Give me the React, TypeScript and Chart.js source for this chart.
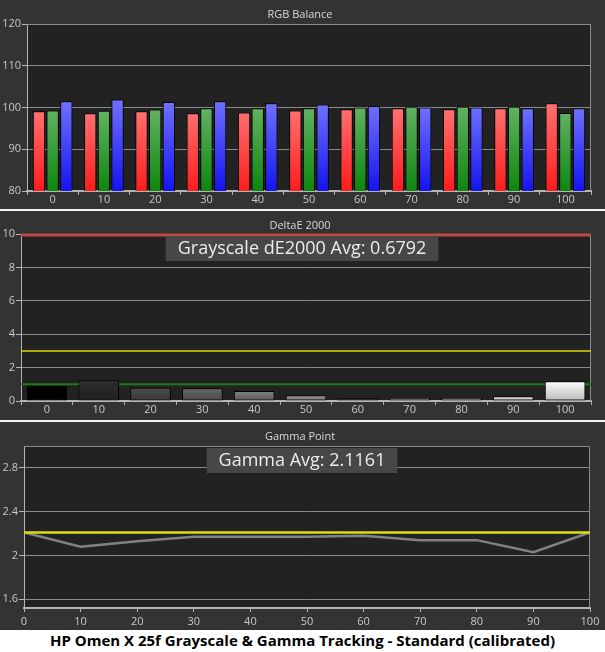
import React, { useEffect, useRef } from 'react';
import Chart from 'chart.js/auto';

// stimulus levels (% white)
const levels = ['0', '10', '20', '30', '40', '50', '60', '70', '80', '90', '100'];

// RGB balance (%)
const redValues = [99.1, 98.6, 99.1, 98.6, 98.8, 99.3, 99.6, 99.8, 99.6, 99.8, 101.0];
const greenValues = [99.3, 99.2, 99.5, 99.8, 99.8, 99.8, 100.0, 100.2, 100.2, 100.2, 98.7];
const blueValues = [101.5, 101.9, 101.3, 101.5, 101.0, 100.7, 100.3, 100.0, 100.0, 99.8, 99.8];
const rgbTicks = [80, 90, 100, 110, 120];

// DeltaE 2000
const deltaE = [0.9, 1.24, 0.8, 0.76, 0.6, 0.34, 0.16, 0.2, 0.2, 0.28, 1.18];
const deltaETicks = [0, 2, 4, 6, 8, 10];
const deltaELimits = [10, 3, 1];
const deltaEAvg = '0.6792';

// Gamma
const gammaLevels = [0, 10, 20, 30, 40, 50, 60, 70, 80, 90, 100];
const gammaValues = [2.21, 2.08, 2.13, 2.17, 2.17, 2.17, 2.18, 2.14, 2.14, 2.03, 2.21];
const gammaTarget = 2.21;
const gammaTicks = [1.6, 2, 2.4, 2.8];
const gammaAvg = '2.1161';

const caption = 'HP Omen X 25f Grayscale & Gamma Tracking - Standard (calibrated)';

const FONT = "'Open Sans', sans-serif";
const GRID = '#8a8a8a';
const AXIS = '#b4b4b4';
const LABEL = '#c8c8c8';
const limitColors = ['#c04848', '#d8d800', '#1c7a1c'];

const tickFont = { family: FONT, size: 11 };

// gradient fill for each bar, light at top and darker at the base
const barFill = (top: string, bottom: string) => (c: any) => {
  const chart = c.chart;
  if (!chart.chartArea || c.parsed == null) return bottom;
  const y = chart.scales.y;
  const y0 = y.getPixelForValue(c.parsed.y);
  const y1 = chart.chartArea.bottom;
  const g = chart.ctx.createLinearGradient(0, y0, 0, Math.max(y1, y0 + 1));
  g.addColorStop(0, top);
  g.addColorStop(1, bottom);
  return g;
};

const grayFill = (c: any) => {
  const chart = c.chart;
  const v = Number(levels[c.dataIndex]) / 100;
  const top = Math.round(255 * Math.pow(v, 0.75));
  const bot = Math.round(top * 0.72);
  if (!chart.chartArea || c.parsed == null) return `rgb(${bot},${bot},${bot})`;
  const y = chart.scales.y;
  const y0 = y.getPixelForValue(c.parsed.y);
  const y1 = chart.chartArea.bottom;
  const g = chart.ctx.createLinearGradient(0, y0, 0, Math.max(y1, y0 + 1));
  g.addColorStop(0, `rgb(${top},${top},${top})`);
  g.addColorStop(1, `rgb(${bot},${bot},${bot})`);
  return g;
};

const panelPlugin = (title: string, avgText?: string, limits?: number[]) => ({
  id: 'panel',
  beforeDraw(chart: any) {
    const { ctx, chartArea: a } = chart;
    ctx.save();
    ctx.fillStyle = '#222222';
    ctx.fillRect(a.left, a.top, a.right - a.left, a.bottom - a.top);
    ctx.restore();
  },
  beforeDatasetsDraw(chart: any) {
    const { ctx, chartArea: a } = chart;
    ctx.save();
    ctx.strokeStyle = GRID;
    ctx.lineWidth = 1;
    ctx.beginPath();
    ctx.moveTo(a.left, a.top + 0.5);
    ctx.lineTo(a.right - 0.5, a.top + 0.5);
    ctx.lineTo(a.right - 0.5, a.bottom);
    ctx.stroke();
    if (limits) {
      const y = chart.scales.y;
      limits.forEach((v, i) => {
        ctx.strokeStyle = limitColors[i];
        ctx.lineWidth = i === 0 ? 3 : i === 1 ? 1.5 : 2;
        const py = y.getPixelForValue(v) + (i === 0 ? 1 : 0);
        ctx.beginPath();
        ctx.moveTo(a.left, py);
        ctx.lineTo(a.right, py);
        ctx.stroke();
      });
    }
    ctx.restore();
  },
  afterDraw(chart: any) {
    const { ctx, chartArea: a } = chart;
    ctx.save();
    ctx.fillStyle = '#d8d8d8';
    ctx.font = `11px ${FONT}`;
    ctx.textAlign = 'center';
    ctx.textBaseline = 'middle';
    ctx.fillText(title, 300, 15);
    if (avgText) {
      ctx.font = `18px ${FONT}`;
      const w = ctx.measureText(avgText).width + 24;
      const cx = 302;
      ctx.fillStyle = '#474747';
      ctx.fillRect(cx - w / 2, a.top + 2, w, 25);
      ctx.fillStyle = '#ececec';
      ctx.fillText(avgText, cx, a.top + 15);
    }
    ctx.restore();
  },
});

const yAxis = (ticks: number[], width: number) => ({
  min: ticks[0],
  max: ticks[ticks.length - 1],
  afterBuildTicks: (s: any) => {
    s.ticks = ticks.map((v) => ({ value: v }));
  },
  afterFit: (s: any) => {
    s.width = width;
  },
  grid: { color: GRID, lineWidth: 1, tickLength: 5, tickColor: AXIS },
  border: { color: AXIS, width: 1 },
  ticks: { color: LABEL, font: tickFont, padding: 1, callback: (v: any) => String(v) },
});

const xCategory = (height: number) => ({
  afterFit: (s: any) => {
    s.height = height;
  },
  grid: { drawOnChartArea: false, tickLength: 4, tickColor: AXIS },
  border: { color: AXIS, width: 2 },
  ticks: { color: LABEL, font: tickFont, padding: -2 },
});

const useChart = (build: () => any) => {
  const ref = useRef<HTMLCanvasElement | null>(null);
  useEffect(() => {
    const chart = new Chart(ref.current as HTMLCanvasElement, build());
    return () => {
      chart.destroy();
    };
  }, []);
  return ref;
};

const RgbBalance = () => {
  const ref = useChart(() => ({
    type: 'bar',
    data: {
      labels: levels,
      datasets: [
        { data: redValues, backgroundColor: barFill('#ff7070', '#ff1c1c') },
        { data: greenValues, backgroundColor: barFill('#62b262', '#0e860e') },
        { data: blueValues, backgroundColor: barFill('#7070ff', '#1414f0') },
      ].map((d) => ({ ...d, borderColor: '#000', borderWidth: 1, borderSkipped: false, categoryPercentage: 0.8, barPercentage: 0.9 })),
    },
    options: {
      responsive: false,
      animation: false,
      layout: { padding: { top: 24, right: 14, left: 0, bottom: 0 } },
      plugins: { legend: { display: false }, tooltip: { enabled: false } },
      scales: { x: xCategory(18), y: yAxis(rgbTicks, 27) },
    },
    plugins: [panelPlugin('RGB Balance')],
  }));
  return <canvas ref={ref} width={605} height={209} style={{ position: 'absolute', left: 0, top: 0 }} />;
};

const DeltaE = () => {
  const ref = useChart(() => ({
    type: 'bar',
    data: {
      labels: levels,
      datasets: [
        {
          data: deltaE,
          backgroundColor: grayFill,
          borderColor: '#000',
          borderWidth: 1,
          borderSkipped: false,
          categoryPercentage: 0.785,
          barPercentage: 1,
        },
      ],
    },
    options: {
      responsive: false,
      animation: false,
      layout: { padding: { top: 23, right: 14, left: 0, bottom: 0 } },
      plugins: { legend: { display: false }, tooltip: { enabled: false } },
      scales: { x: xCategory(19), y: yAxis(deltaETicks, 21) },
    },
    plugins: [panelPlugin('DeltaE 2000', `Grayscale dE2000 Avg: ${deltaEAvg}`, deltaELimits)],
  }));
  return <canvas ref={ref} width={605} height={209} style={{ position: 'absolute', left: 0, top: 211 }} />;
};

const Gamma = () => {
  const ref = useChart(() => ({
    type: 'line',
    data: {
      datasets: [
        {
          data: gammaLevels.map((x, i) => ({ x, y: gammaValues[i] })),
          borderColor: '#828282',
          borderWidth: 2.5,
          pointRadius: 0,
          order: 2,
        },
        {
          data: [
            { x: gammaLevels[0], y: gammaTarget },
            { x: gammaLevels[gammaLevels.length - 1], y: gammaTarget },
          ],
          borderColor: '#dede10',
          borderWidth: 2.5,
          pointRadius: 0,
          order: 1,
        },
      ],
    },
    options: {
      responsive: false,
      animation: false,
      layout: { padding: { top: 24, right: 15, left: 0, bottom: 0 } },
      plugins: { legend: { display: false }, tooltip: { enabled: false } },
      scales: {
        x: {
          type: 'linear',
          min: 0,
          max: 100,
          ticks: { stepSize: 10, color: LABEL, font: tickFont, padding: 3 },
          afterFit: (s: any) => {
            s.height = 22;
          },
          grid: { drawOnChartArea: false, tickLength: 4, tickColor: AXIS },
          border: { color: AXIS, width: 2 },
        },
        y: { ...yAxis(gammaTicks, 24), min: 1.52, max: 3.0 },
      },
    },
    plugins: [panelPlugin('Gamma Point', `Gamma Avg: ${gammaAvg}`)],
  }));
  return <canvas ref={ref} width={605} height={208} style={{ position: 'absolute', left: 0, top: 422 }} />;
};

export default function App() {
  return (
    <div style={{ position: 'absolute', left: 0, top: 0, width: 605, height: 652, background: '#333333', overflow: 'hidden' }}>
      <RgbBalance />
      <div style={{ position: 'absolute', left: 0, top: 209, width: 605, height: 2, background: '#f2f2f2' }} />
      <DeltaE />
      <div style={{ position: 'absolute', left: 0, top: 420, width: 605, height: 2, background: '#f2f2f2' }} />
      <Gamma />
      <div
        style={{
          position: 'absolute',
          left: 0,
          top: 630,
          width: 605,
          height: 22,
          background: '#ffffff',
          color: '#000',
          fontFamily: FONT,
          fontWeight: 700,
          fontSize: 15,
          lineHeight: '21px',
          textAlign: 'center',
          whiteSpace: 'nowrap',
        }}
      >
        {caption}
      </div>
    </div>
  );
}
